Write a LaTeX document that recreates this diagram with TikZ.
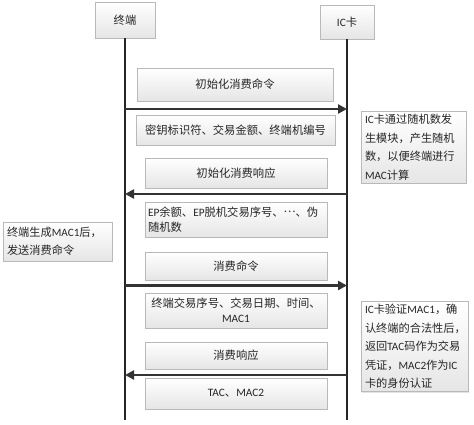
\documentclass[tikz,border=0pt]{standalone}
\usepackage{fontspec}
\setmainfont{Noto Sans CJK SC}
\newfontfamily\lat{Carlito}
\usetikzlibrary{arrows.meta,shadows}
\begin{document}
\begin{tikzpicture}[x=1pt,y=-1pt,
  box/.style={draw=gray!55, line width=0.6pt, top color=white, bottom color=gray!20,
    drop shadow={shadow xshift=1.2pt, shadow yshift=-1.2pt, fill=gray!45},
    inner sep=2pt, font=\fontsize{11.3}{15}\selectfont, text=black!85},
  note/.style={box, align=left, font=\fontsize{11.2}{18.5}\selectfont, inner sep=3pt},
  life/.style={line width=2.3pt, draw=black!85},
  msg/.style={line width=2.6pt, draw=black!80, -{Triangle[length=9pt,width=9pt]}}]
\useasboundingbox (0,0) rectangle (474,425);
% actors
\node[box, minimum width=60pt, minimum height=36pt] (term) at (125,20) {终端};
\node[box, minimum width=54pt, minimum height=34pt] (ic) at (347,22) {{\lat IC}卡};
\coordinate (tend) at (125,420);
\coordinate (iend) at (347,420);
\draw[life] (term.south) -- (tend);
\draw[life] (ic.south) -- (iend);
% message boxes
\node[box, minimum width=196pt, minimum height=33pt] (b1) at (235,84.5) {初始化消费命令};
\node[box, minimum width=199pt, minimum height=30pt] (b2) at (235.5,130) {密钥标识符、交易金额、终端机编号};
\node[box, minimum width=182pt, minimum height=30pt] (b3) at (236,173) {初始化消费响应};
\node[box, minimum width=182pt, minimum height=35pt, align=left, text width=176pt] (b4) at (236,219.5) {{\lat EP}余额、{\lat EP}脱机交易序号、\raisebox{0.3em}{…}、伪\\随机数};
\node[box, minimum width=182pt, minimum height=28pt] (b5) at (236,266) {消费命令};
\node[box, minimum width=182pt, minimum height=35pt, align=center] (b6) at (236,310.5) {终端交易序号、交易日期、时间、\\{\lat MAC1}};
\node[box, minimum width=182pt, minimum height=27pt] (b7) at (236,355.5) {消费响应};
\node[box, minimum width=182pt, minimum height=31pt] (b8) at (236,393.5) {{\lat TAC}、{\lat MAC2}};
% arrows
\coordinate (a1l) at (125,109); \coordinate (a1r) at (347,109);
\coordinate (a2l) at (125,194); \coordinate (a2r) at (347,194);
\coordinate (a3l) at (125,285.5); \coordinate (a3r) at (347,285.5);
\coordinate (a4l) at (125,375); \coordinate (a4r) at (347,375);
\draw[msg] (a1l) -- (a1r);
\draw[msg] (a2r) -- (a2l);
\draw[msg] (a3l) -- (a3r);
\draw[msg] (a4r) -- (a4l);
% notes
\node[note, minimum width=105pt, minimum height=66pt, text width=97pt] (n1) at (413.5,147)
  {{\lat IC}卡通过随机数发\\生模块，产生随机\\数，以便终端进行\\{\lat MAC}计算};
\node[note, minimum width=109pt, minimum height=39pt, text width=101pt] (n2) at (57.5,241.5)
  {终端生成{\lat MAC1}后，\\发送消费命令};
\node[note, minimum width=107pt, minimum height=85pt, text width=99pt] (n3) at (414.5,346.5)
  {{\lat IC}卡验证{\lat MAC1}，确\\认终端的合法性后，\\返回{\lat TAC}码作为交易\\凭证，{\lat MAC2}作为{\lat IC}\\卡的身份认证};
\end{tikzpicture}
\end{document}
